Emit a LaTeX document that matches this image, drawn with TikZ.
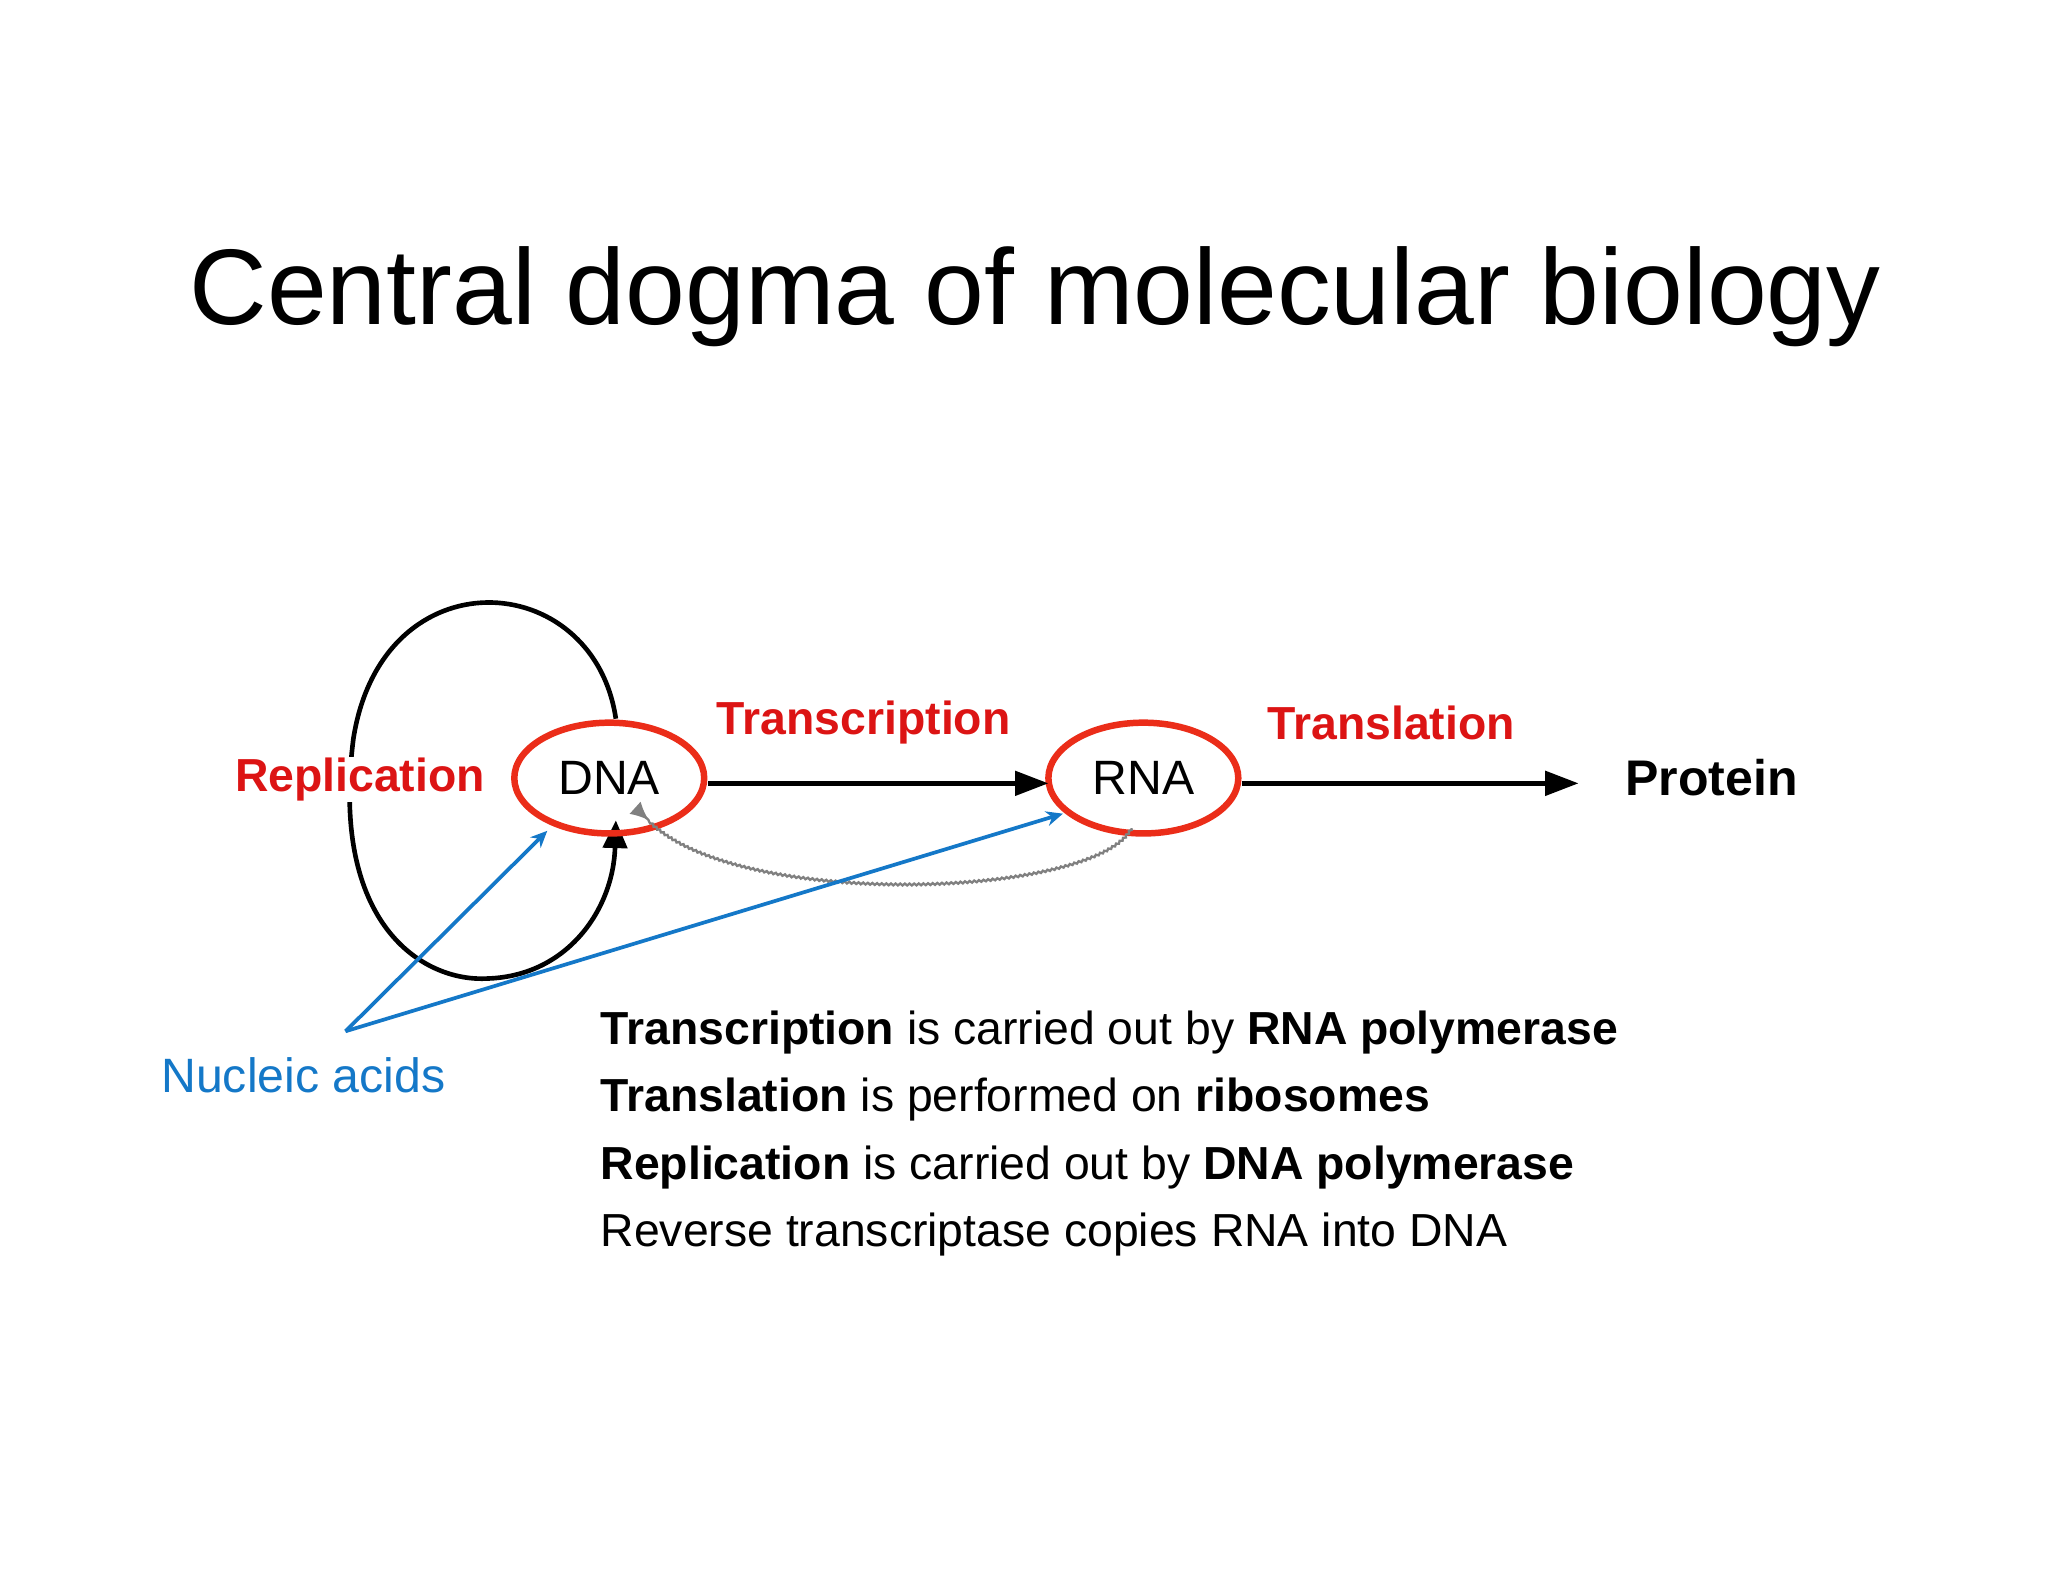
\documentclass[tikz,border=0pt]{standalone}
\usepackage{fontspec}
\setmainfont{Liberation Sans}
\usetikzlibrary{arrows.meta,decorations.pathmorphing}
\definecolor{lred}{RGB}{220,20,20}
\definecolor{ringred}{RGB}{235,45,25}
\definecolor{lblue}{RGB}{20,120,200}
\begin{document}
\begin{tikzpicture}[x=0.05cm,y=-0.05cm,
 lbl/.style={font=\fontsize{50}{56}\selectfont\bfseries,text=lred,fill=white,inner sep=1pt},
 mol/.style={font=\fontsize{52}{56}\selectfont},
 big/.style={line width=5pt,-{Triangle[length=36pt,width=26pt]}},
 body/.style={font=\fontsize{50}{56}\selectfont,anchor=west}]
\fill[white] (0,0) rectangle (1553,1200);
\node[font=\fontsize{116}{120}\selectfont] (title) at (785,225) {Central dogma of molecular biology};
% replication loop
\coordinate (l1) at (467,545); \coordinate (l2) at (467,622);
\draw[line width=5pt,-{Triangle[length=30pt,width=26pt]}] (l1) .. controls (450,430) and (290,420) .. (268,560)
 .. controls (250,700) and (320,745) .. (370,742) .. controls (430,740) and (465,690) .. (l2);
\node[lbl] (rep) at (273,591) {Replication};
\node[mol] (dna) at (462,590) {DNA};
\node[mol] (rna) at (867,590) {RNA};
\node[font=\fontsize{54}{58}\selectfont\bfseries] (prot) at (1298,590) {Protein};
\draw[ringred,line width=7pt] (dna) ellipse[x radius=72,y radius=42];
\draw[ringred,line width=7pt] (rna) ellipse[x radius=72,y radius=42];
\node[lbl] (tsc) at (655,548) {Transcription};
\node[lbl] (tsl) at (1055,548) {Translation};
\coordinate (a1) at (537,594); \coordinate (a2) at (795,594);
\coordinate (b1) at (942,594); \coordinate (b2) at (1197,594);
\draw[big] (a1) -- (a2);
\draw[big] (b1) -- (b2);
% reverse transcription
\coordinate (r1) at (858,628); \coordinate (r2) at (492,622);
\draw[gray,line width=2.5pt,decorate,decoration={snake,amplitude=1,segment length=5},-{Latex[length=20pt,width=18pt]}]
 (r1) .. controls (830,680) and (560,690) .. (r2);
% nucleic acids
\node[font=\fontsize{52}{56}\selectfont,text=lblue] (na) at (230,815) {Nucleic acids};
\coordinate (n0) at (262,782);
\coordinate (nd) at (415,630); \coordinate (nr) at (806,617);
\draw[lblue,line width=4pt,-{Stealth[length=18pt,width=16pt]}] (n0) -- (nd);
\draw[lblue,line width=4pt,-{Stealth[length=18pt,width=16pt]}] (n0) -- (nr);
\node[body] (t1) at (453,783) {\textbf{Transcription} is carried out by \textbf{RNA polymerase}};
\node[body] (t2) at (453,834) {\textbf{Translation} is performed on \textbf{ribosomes}};
\node[body] (t3) at (453,885) {\textbf{Replication} is carried out by \textbf{DNA polymerase}};
\node[body] (t4) at (453,936) {Reverse transcriptase copies RNA into DNA};
\end{tikzpicture}
\end{document}
